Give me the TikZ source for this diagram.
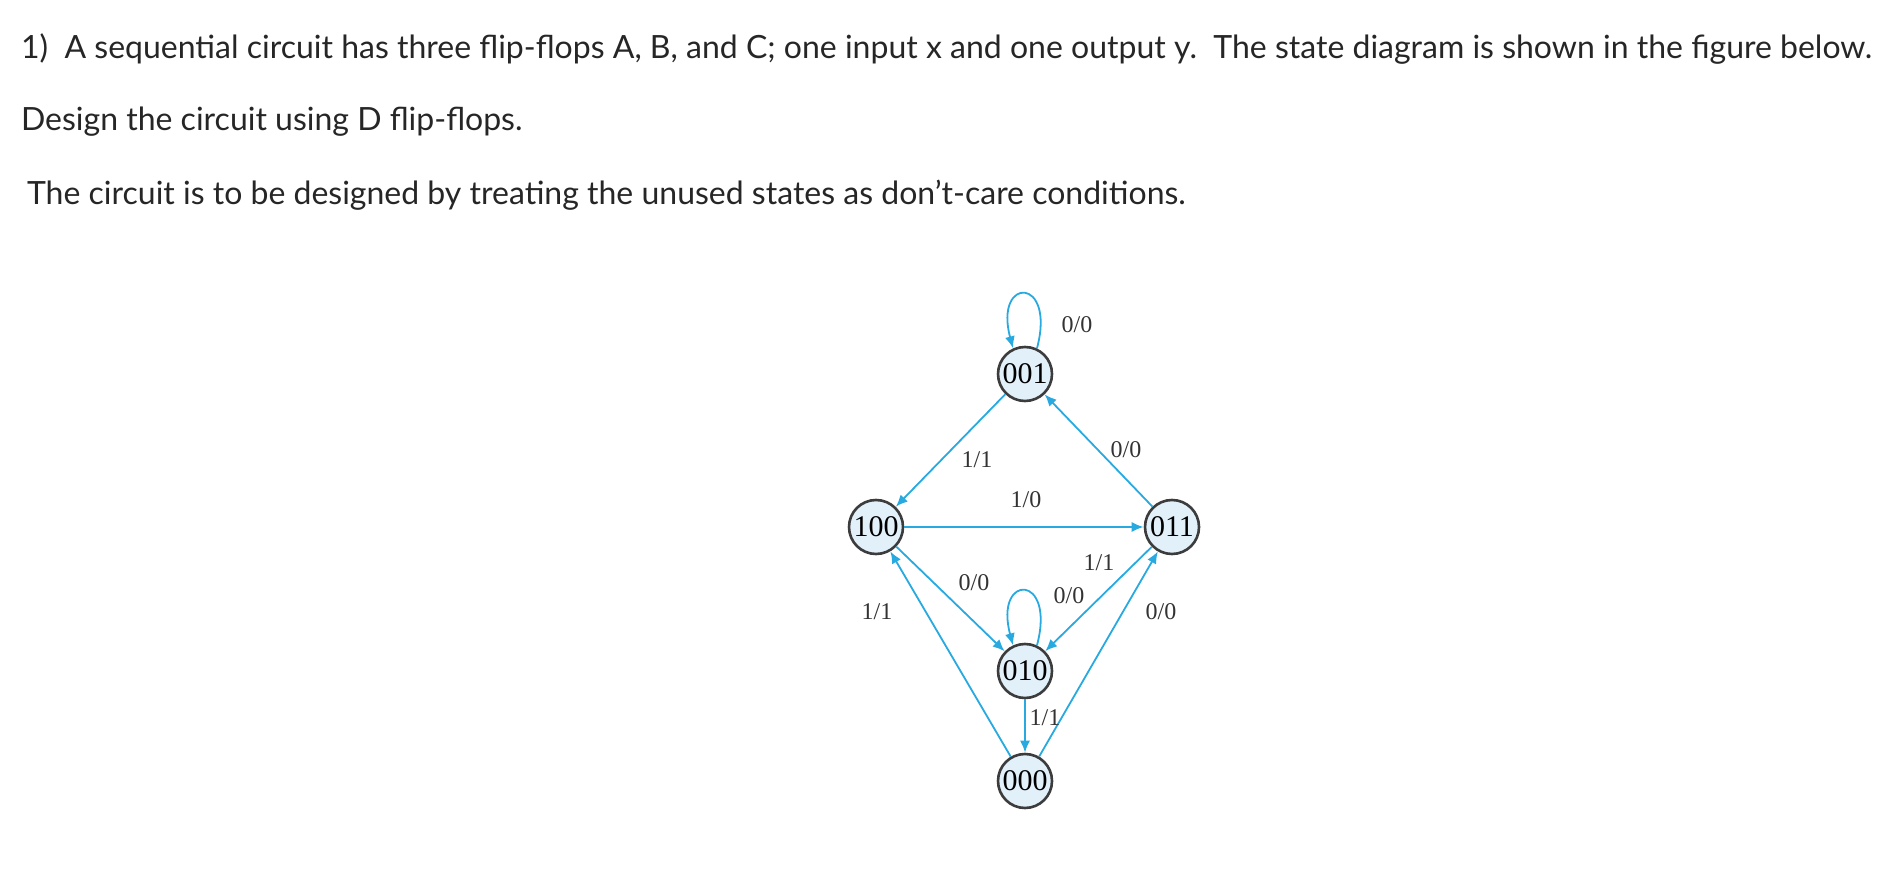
\documentclass[tikz,border=0pt]{standalone}
\usepackage{fontspec}
\setmainfont{Lato}
\newfontfamily\serifx{Liberation Serif}
\usetikzlibrary{arrows.meta}
\definecolor{edgeblue}{RGB}{40,170,225}
\definecolor{statefill}{RGB}{226,240,250}
\definecolor{stateline}{RGB}{60,60,60}
\begin{document}
\begin{tikzpicture}[x=0.5pt,y=-0.5pt,
  state/.style={circle,draw=stateline,line width=1.3pt,fill=statefill,minimum size=27pt,inner sep=0pt,font=\serifx\fontsize{15}{15}\selectfont},
  edge/.style={draw=edgeblue,line width=0.9pt,-{Latex[length=6pt,width=5pt]}},
  lbl/.style={font=\serifx\fontsize{12}{12}\selectfont,text=black!80},
  para/.style={anchor=west,font=\fontsize{16}{18}\selectfont,text=black!85}]
\useasboundingbox (0,0) rectangle (1898,870);
\node[para] (t1) at (14,49) {1)\ \ A sequential circuit has three flip-flops A, B, and C; one input x and one output y.\ \ The state diagram is shown in the figure below.};
\node[para] (t2) at (14,122) {Design the circuit using D flip-flops.};
\node[para] (t3) at (20,195) {The circuit is to be designed by treating the unused states as don’t-care conditions.};
\node[state] (s001) at (1025,374) {001};
\node[state] (s100) at (876,527) {100};
\node[state] (s011) at (1172,527) {011};
\node[state] (s010) at (1025,671) {010};
\node[state] (s000) at (1025,781) {000};
\draw[edge] (s001.65) .. controls +(-75:75) and +(-105:75) .. (s001.115);
\draw[edge] (s001) -- (s100);
\draw[edge] (s011) -- (s001);
\draw[edge] (s100) -- (s011);
\draw[edge] (s100) -- (s010);
\draw[edge] (s011) -- (s010);
\draw[edge] (s010.65) .. controls +(-75:75) and +(-105:75) .. (s010.115);
\draw[edge] (s010) -- (s000);
\draw[edge] (s000) -- (s100);
\draw[edge] (s000) -- (s011);
\node[lbl] (l1) at (1077,325) {0/0};
\node[lbl] (l2) at (977,460) {1/1};
\node[lbl] (l3) at (1126,450) {0/0};
\node[lbl] (l4) at (1026,500) {1/0};
\node[lbl] (l5) at (1099,563) {1/1};
\node[lbl] (l6) at (974,583) {0/0};
\node[lbl] (l7) at (1069,596) {0/0};
\node[lbl] (l8) at (877,612) {1/1};
\node[lbl] (l9) at (1161,612) {0/0};
\node[lbl] (l10) at (1045,718) {1/1};
\end{tikzpicture}
\end{document}
